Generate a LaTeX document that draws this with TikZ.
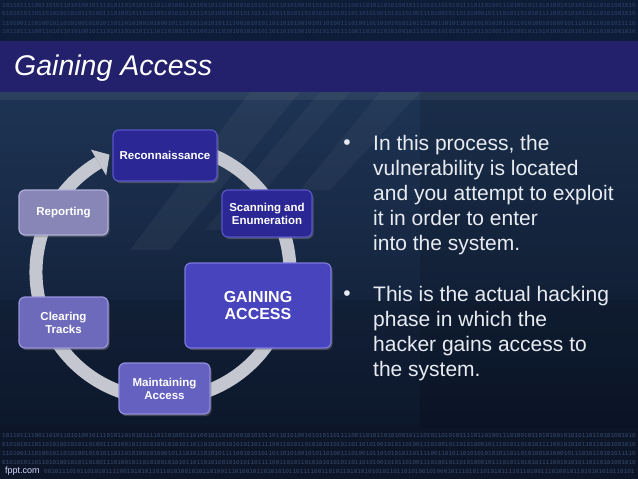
\documentclass[tikz,border=0pt]{standalone}
\usepackage{fontspec}
\setmainfont{Liberation Sans}
\setmonofont{Liberation Mono}
\usetikzlibrary{shadows}
\definecolor{topstripe}{HTML}{0E1C38}
\definecolor{bitcol}{HTML}{2E4368}
\definecolor{titlebar}{HTML}{23216B}
\definecolor{bodytop}{HTML}{1E3454}
\definecolor{bodybot}{HTML}{0E1A30}
\definecolor{botstripe}{HTML}{0C1628}
\definecolor{botbit}{HTML}{3A4B6E}
\definecolor{ringcol}{HTML}{C4C7D0}
\definecolor{txtcol}{HTML}{E8ECF2}
\definecolor{darkbox}{HTML}{2B2794}
\definecolor{darkboxedge}{HTML}{5854C8}
\definecolor{gainbox}{HTML}{4744BD}
\definecolor{gainedge}{HTML}{7C79E0}
\definecolor{repbox}{HTML}{8886B6}
\definecolor{repedge}{HTML}{B0AED8}
\definecolor{clrbox}{HTML}{6E6ABB}
\definecolor{clredge}{HTML}{9894DC}
\definecolor{mntbox}{HTML}{6561C0}
\definecolor{mntedge}{HTML}{918DE0}
\newcommand\bkA{1011011110011010110101}
\newcommand\bkB{0010111010110101011110}
\newcommand\bkC{1101001110100101101010}
\newcommand\bkD{0101010110110101001010}
\newcommand\rowA{\bkA\bkB\bkC\bkD\bkA\bkB\bkC\bkD}
\newcommand\rowB{\bkD\bkC\bkD\bkA\bkD\bkC\bkB\bkD}
\newcommand\rowC{\bkC\bkD\bkB\bkD\bkC\bkA\bkD\bkB}
\newcommand\rowS{\bkB\bkD\bkC\bkA\bkD\bkB\bkC 1010110101}
\tikzset{
  bits/.style={font=\ttfamily\fontsize{6}{6}\selectfont, inner sep=0pt, anchor=base west},
  stagebox/.style={rounded corners=6pt, align=center, text=white, inner sep=0pt,
    font=\bfseries\fontsize{11.5}{13}\selectfont, line width=1.2pt,
    drop shadow={shadow xshift=1.5pt, shadow yshift=-2pt, opacity=0.45}},
  bodytext/.style={text=txtcol, font=\fontsize{21}{25}\selectfont, align=left, inner sep=0pt, anchor=north west},
}
\begin{document}
\begin{tikzpicture}[x=1pt,y=-1pt]
\useasboundingbox (0,0) rectangle (638,479);
% body background
\shade[top color=bodytop, bottom color=bodybot] (0,92) rectangle (638,430);
\fill[black, opacity=0.12] (420,92) rectangle (638,430);
\fill[black, opacity=0.10] (0,300) rectangle (638,430);
% light streaks
\fill[white, opacity=0.045] (250,92) -- (300,92) -- (170,250) -- (130,250) -- cycle;
\fill[white, opacity=0.035] (320,92) -- (350,92) -- (230,230) -- (205,230) -- cycle;
\fill[white, opacity=0.035] (380,92) -- (420,92) -- (330,190) -- (300,190) -- cycle;
\fill[white, opacity=0.06] (0,92) rectangle (638,100);
% top stripe
\fill[topstripe] (0,0) rectangle (638,41);
\node[bits, text=bitcol] (t1) at (2,7) {\rowA};
\node[bits, text=bitcol] (t2) at (2,16) {\rowB};
\node[bits, text=bitcol] (t3) at (2,25) {\rowC};
\node[bits, text=bitcol] (t4) at (2,34) {\rowA};
% title bar
\fill[titlebar] (0,41) rectangle (638,92);
\node[anchor=base west, inner sep=0pt, text=white, font=\itshape\fontsize{28.5}{30}\selectfont] (title) at (14,75) {Gaining Access};
% bottom stripe
\fill[botstripe] (0,428) rectangle (638,479);
\node[bits, text=botbit] (b1) at (2,437) {\rowA};
\node[bits, text=botbit] (b2) at (2,446) {\rowB};
\node[bits, text=botbit] (b3) at (2,455) {\rowC};
\node[bits, text=botbit] (b4) at (2,464) {\rowB};
\node[bits, text=botbit] (b5) at (44,473) {\rowS};
\node[anchor=base west, inner sep=0pt, text=white!85!blue, font=\fontsize{9}{9}\selectfont] (fppt) at (5,473) {fppt.com};
% ring with arrow
\begin{scope}[shift={(163,272)}]
\coordinate (ringstart) at (75:127pt);
\draw[ringcol, line width=13pt] (ringstart) arc[start angle=75, end angle=-239.5, radius=127pt];
\fill[ringcol] (120.5:112pt) -- (120.5:142pt) -- (114.5:129pt) -- cycle;
\end{scope}
% stage boxes
\node[stagebox, fill=darkbox, draw=darkboxedge, minimum width=104pt, minimum height=51pt] (recon) at (165,155.5) {Reconnaissance};
\node[stagebox, fill=darkbox, draw=darkboxedge, minimum width=90pt, minimum height=47pt] (scan) at (267,213.5) {Scanning and\\Enumeration};
\node[stagebox, fill=gainbox, draw=gainedge, minimum width=146pt, minimum height=85pt, font=\bfseries\fontsize{16}{17}\selectfont] (gain) at (258,305.5) {GAINING\\ACCESS};
\node[stagebox, fill=repbox, draw=repedge, minimum width=89pt, minimum height=45pt] (report) at (63.5,212.5) {Reporting};
\node[stagebox, fill=clrbox, draw=clredge, minimum width=89pt, minimum height=51pt] (clear) at (63.5,322.5) {Clearing\\Tracks};
\node[stagebox, fill=mntbox, draw=mntedge, minimum width=91pt, minimum height=51pt] (maint) at (164.5,388.5) {Maintaining\\Access};
% bullets
\node[text=txtcol, font=\fontsize{21}{25}\selectfont, inner sep=0pt] (bul1) at (347,145) {\textbullet};
\node[bodytext] (p1) at (373,135) {In this process, the\\vulnerability is located\\and you attempt to exploit\\it in order to enter\\into the system.};
\node[text=txtcol, font=\fontsize{21}{25}\selectfont, inner sep=0pt] (bul2) at (347,296) {\textbullet};
\node[bodytext] (p2) at (373,286) {This is the actual hacking\\phase in which the\\hacker gains access to\\the system.};
\end{tikzpicture}
\end{document}
